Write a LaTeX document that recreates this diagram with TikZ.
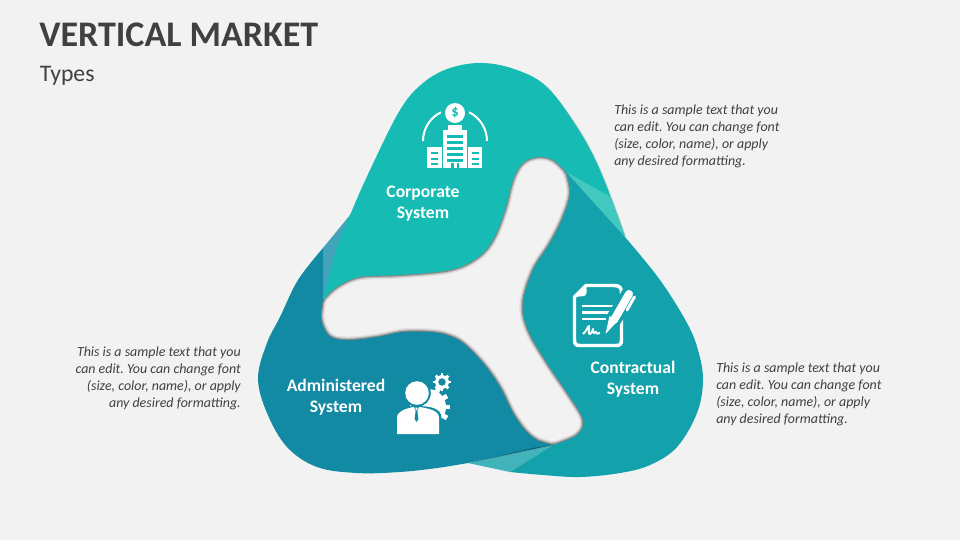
\documentclass[tikz,border=0pt]{standalone}
\usepackage{fontspec}
\setmainfont{Carlito}
\definecolor{bg}{HTML}{F2F2F2}
\definecolor{corp}{HTML}{16BBB3}
\definecolor{contr}{HTML}{13A2AB}
\definecolor{admin}{HTML}{128AA3}
\definecolor{foldA}{HTML}{42C8BF}
\definecolor{foldB}{HTML}{43A3BA}
\definecolor{foldC}{HTML}{42B3BA}
\definecolor{ink}{HTML}{404040}
\newcommand\corpout{-- plot[smooth,tension=.6] coordinates {(323,300) (337,247) (350,215) (370,170) (400,110) (423,83) (450,68) (483,63) (517,70) (547,87) (577,127) (600,170) (625,236)}}
\newcommand\corpin{-- plot[smooth,tension=.6] coordinates {(566,172) (553,160) (538,157) (523,163) (513,180) (505,210) (493,240) (477,258) (450,270) (400,275) (360,277) (337,287) (323,300)}}
\newcommand\contrin{-- plot[smooth,tension=.6] coordinates {(566,172) (570,193) (563,217) (550,243) (533,270) (523,303) (528,330) (547,363) (570,397) (583,420) (577,435) (553,445)}}
\newcommand\controut{-- plot[smooth,tension=.6] coordinates {(510,472) (543,475) (580,477) (620,473) (650,465) (677,447) (697,413) (703,380) (698,350) (687,323) (660,280) (625,237)}}
\newcommand\adminin{-- plot[smooth,tension=.6] coordinates {(553,445) (537,440) (525,430) (513,413) (500,387) (483,363) (463,343) (447,335) (430,332) (403,332) (377,337) (350,340) (333,338) (325,330) (321,317) (323,300)}}
\newcommand\adminout{-- plot[smooth,tension=.6] coordinates {(323,248) (298,280) (280,317) (267,343) (258,378) (267,413) (287,447) (317,467) (357,473) (400,472) (437,468) (468,463)}}
\tikzset{
  x=.75pt,y=-.75pt,
  label text/.style={text=white,font=\frenchspacing\fontsize{13.2}{15.75}\selectfont\bfseries,align=center,inner sep=0pt},
  note text/.style={text=ink,font=\frenchspacing\fontsize{10.45}{12.75}\selectfont\itshape,inner sep=0pt},
  shade a/.style={line width=7*.75pt,black,opacity=.07},
  shade b/.style={line width=4.5*.75pt,black,opacity=.15},
  shade c/.style={line width=2.2*.75pt,black,opacity=.28},
}
\begin{document}
\begin{tikzpicture}
\useasboundingbox (0,0) rectangle (960,540);
\fill[bg] (0,0) rectangle (960,540);
% soft shadows along the central opening
\foreach \s in {shade a,shade b,shade c}{
  \draw[\s] (566,172) \corpin;
  \draw[\s] (566,172) \contrin;
  \draw[\s] (553,445) \adminin;
}
\draw[black,opacity=.1,line width=2*.75pt] plot[smooth,tension=.6] coordinates {(547,87) (577,127) (600,170) (625,236)};
% folds and bands
\fill[foldB] (350,215) -- (323,248) -- (322,300) -- (340,260) -- cycle;
\fill[corp] (323,300) \corpout -- (566,172) \corpin -- cycle;
\fill[foldA] (566,172) -- (611,197) -- (625,237) -- cycle;
\fill[foldC] (468,463) -- (510,472) -- (553,445) -- cycle;
\fill[contr] (566,172) \contrin -- (510,472) \controut -- cycle;
\fill[admin] (468,463) -- (553,445) \adminin -- (323,248) \adminout -- cycle;
\fill[black,opacity=.3] (474,462) -- (553,445) -- (535,447.5) -- cycle;
% building icon
\fill[white] (455,113) circle[radius=10];
\node[text=corp,font=\fontsize{11}{11}\selectfont\bfseries,inner sep=0pt] (dollar) at (455,113) {\$};
\draw[white,line width=1.5] (423,141) arc[start angle=180,end angle=244,radius=32];
\draw[white,line width=1.5] (487,141) arc[start angle=0,end angle=-64,radius=32];
\fill[white] (448,125) rectangle (462,131);
\fill[white] (443,130) rectangle (467,168);
\fill[white] (427,147) rectangle (442,168);
\fill[white] (468,147) rectangle (482,168);
\foreach \y in {135,141,147,153,159}{\fill[corp] (447,\y) rectangle (463,\y+2.6);}
\fill[corp] (451,163) rectangle (453.5,168);
\fill[corp] (456.5,163) rectangle (459,168);
\foreach \y in {152,158,163}{
  \fill[corp] (431,\y) rectangle (438,\y+2.2);
  \fill[corp] (472,\y) rectangle (479,\y+2.2);
}
% person icon
\begin{scope}[shift={(442,382)}]
  \foreach \a in {0,45,...,315}{\draw[white,line width=2.2] (\a:5) -- (\a:9);}
  \draw[white,line width=2.4] (0,0) circle[radius=5.6];
\end{scope}
\begin{scope}[shift={(428,407)}]
  \foreach \a in {-60,-30,...,60}{\draw[white,line width=3.6] (\a:12) -- (\a:22);}
  \fill[white] (0,0) circle[radius=18];
\end{scope}
\fill[admin] (417,393) circle[radius=13.8];
\fill[admin] (395,436) -- (395,418) .. controls (395,408) and (405,406) .. (416,406) .. controls (430,406) and (441.5,408) .. (441.5,418) -- (441.5,436) -- cycle;
\fill[white] (417,393) circle[radius=11.8];
\fill[white] (397,434) -- (397,418) .. controls (397,411) and (405,409) .. (413,407) -- (420,407) .. controls (431,409) and (439,411) .. (439,418) -- (439,434) -- cycle;
\fill[admin] (414.2,406) -- (414,407) -- (415.6,411) -- (414.6,419) -- (416.5,422) -- (418.4,419) -- (417.4,411) -- (419,407) -- (418.8,406) -- cycle;
\fill[white] (415.2,407.5) -- (417.8,407.5) -- (417.2,410) -- (415.8,410) -- cycle;
% contract icon
\draw[white,line width=2.6,line join=round] (586,285.5) -- (614,285.5) .. controls (620,285.5) and (621.5,288) .. (621.5,293) -- (621.5,340) .. controls (621.5,344) and (620,345.5) .. (616,345.5) -- (580,345.5) .. controls (576,345.5) and (574.5,344) .. (574.5,340) -- (574.5,297) -- cycle;
\fill[white] (586,285) -- (574.5,297) -- (584,296) .. controls (587,295) and (587,292) .. (586,285) -- cycle;
\draw[white,line width=2] (582,306) -- (613,306);
\draw[white,line width=2] (582,312.5) -- (610,312.5);
\draw[white,line width=2] (582,319) -- (606,319);
\draw[white,line width=1.5,line join=round] (583,334) .. controls (586,332) and (588,326) .. (589,326) .. controls (589,331) and (588,334) .. (590,334) .. controls (592,334) and (592,331) .. (593,329) .. controls (593,334) and (595,334) .. (596,332) .. controls (596,334) and (598,334) .. (600,333);
\draw[contr,line width=12] (612,322) -- (630,293);
\fill[contr] (607,335) -- (610,318) -- (618,324) -- cycle;
\draw[white,line width=6,line cap=round] (614,320) -- (629,294);
\fill[white] (605.5,334) -- (609.5,316) -- (617.5,321) -- cycle;
\draw[white,line width=2.2,line cap=round] (627,310) -- (634.5,297);
% labels
\node[label text] (corporate) at (423,203.5) {Corporate\\System};
\node[label text] (administered) at (336,397.5) {Administered\\System};
\node[label text] (contractual) at (633,379.5) {Contractual\\System};
% notes
\node[note text,align=left,anchor=north west] (noteA) at (614,104.5) {This is a sample text that you\\can edit. You can change font\\(size, color, name), or apply\\any desired formatting.};
\node[note text,align=left,anchor=north west] (noteB) at (716,362.5) {This is a sample text that you\\can edit. You can change font\\(size, color, name), or apply\\any desired formatting.};
\node[note text,align=right,anchor=north east] (noteC) at (241,346.5) {This is a sample text that you\\can edit. You can change font\\(size, color, name), or apply\\any desired formatting.};
% title
\node[text=ink,font=\fontsize{27}{30}\selectfont\bfseries,anchor=west,inner sep=0pt] (title) at (39,35) {VERTICAL MARKET};
\node[text=ink,font=\fontsize{17.8}{20}\selectfont,anchor=west,inner sep=0pt] (subtitle) at (39.5,75.5) {Types};
\end{tikzpicture}
\end{document}
